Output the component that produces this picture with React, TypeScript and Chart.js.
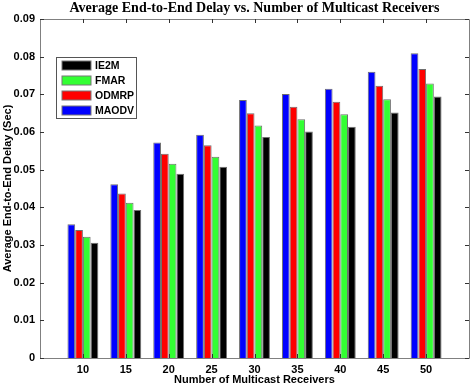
import React, { useEffect, useRef } from 'react';
import { Chart, registerables } from 'chart.js';

Chart.register(...registerables);

const categories = ['10', '15', '20', '25', '30', '35', '40', '45', '50'];
const maodv = [0.0355, 0.0461, 0.0572, 0.0593, 0.0685, 0.0701, 0.0715, 0.0760, 0.0809];
const odmrp = [0.0340, 0.0437, 0.0542, 0.0565, 0.0650, 0.0667, 0.0680, 0.0723, 0.0767];
const fmar = [0.0322, 0.0412, 0.0516, 0.0534, 0.0617, 0.0634, 0.0647, 0.0687, 0.0729];
const ie2m = [0.0306, 0.0393, 0.0489, 0.0508, 0.0587, 0.0601, 0.0614, 0.0652, 0.0694];
const yMin = 0;
const yMax = 0.09;
const yStep = 0.01;

const pad = (arr: number[]) => [null, ...arr, null];

const frameColor = '#808080';

const framePlugin = {
  id: 'matlabFrame',
  afterDatasetsDraw(chart: any) {
    const { ctx, chartArea, scales } = chart;
    const { left, right, top, bottom } = chartArea;
    const len = 4;
    ctx.save();
    ctx.strokeStyle = frameColor;
    ctx.lineWidth = 1;
    ctx.beginPath();
    ctx.rect(Math.round(left) + 0.5, Math.round(top) + 0.5, Math.round(right - left), Math.round(bottom - top));
    ctx.stroke();
    ctx.strokeStyle = '#333';
    ctx.beginPath();
    const y = scales.y;
    y.ticks.forEach((t: any) => {
      const py = Math.round(y.getPixelForValue(t.value)) + 0.5;
      ctx.moveTo(left, py);
      ctx.lineTo(left + len, py);
      ctx.moveTo(right, py);
      ctx.lineTo(right - len, py);
    });
    const x = scales.x;
    x.ticks.forEach((t: any) => {
      const lbl = chart.data.labels[t.value];
      if (!lbl) return;
      const px = Math.round(x.getPixelForValue(t.value)) + 0.5;
      ctx.moveTo(px, bottom);
      ctx.lineTo(px, bottom - len);
      ctx.moveTo(px, top);
      ctx.lineTo(px, top + len);
    });
    ctx.stroke();
    ctx.restore();
  },
};

const legendPlugin = {
  id: 'insetLegend',
  afterDraw(chart: any) {
    const { ctx } = chart;
    const boxX = 56.5;
    const boxY = 57.5;
    const boxW = 80;
    const boxH = 61;
    ctx.save();
    ctx.fillStyle = '#fff';
    ctx.fillRect(boxX, boxY, boxW, boxH);
    ctx.strokeStyle = '#555';
    ctx.lineWidth = 1;
    ctx.strokeRect(boxX, boxY, boxW, boxH);
    const items = [...chart.data.datasets].reverse();
    ctx.font = 'bold 10.5px "Liberation Sans", Arial, sans-serif';
    ctx.textBaseline = 'middle';
    items.forEach((ds: any, i: number) => {
      const cy = 65.5 + i * 15;
      ctx.fillStyle = ds.backgroundColor;
      ctx.fillRect(62, cy - 4.5, 29, 9);
      ctx.strokeStyle = '#777';
      ctx.strokeRect(62, cy - 4.5, 29, 9);
      ctx.fillStyle = '#000';
      ctx.fillText(ds.label, 95, cy + 0.5);
    });
    ctx.restore();
  },
};

export default function App() {
  const ref = useRef<HTMLCanvasElement>(null);
  useEffect(() => {
    document.body.style.margin = '0';
    const canvas = ref.current!;
    const axisFont = { family: '"Liberation Sans", Arial, sans-serif', size: 11, weight: 'bold' as const };
    const mk = (label: string, data: number[], color: string) => ({
      label,
      data: pad(data),
      backgroundColor: color,
      borderColor: '#6f6f6f',
      borderWidth: 1,
      categoryPercentage: 0.72,
      barPercentage: 1,
    });
    const chart = new Chart(canvas, {
      type: 'bar',
      data: {
        labels: ['', ...categories, ''],
        datasets: [
          mk('MAODV', maodv, '#0000ff'),
          mk('ODMRP', odmrp, '#ff0000'),
          mk('FMAR', fmar, '#33ff33'),
          mk('IE2M', ie2m, '#000000'),
        ],
      },
      options: {
        responsive: false,
        animation: false,
        devicePixelRatio: 1,
        layout: { padding: { left: 0, right: 2, top: 0, bottom: 0 } },
        plugins: {
          legend: { display: false },
          tooltip: { enabled: false },
          title: {
            display: true,
            text: 'Average End-to-End Delay vs. Number of Multicast Receivers',
            fullSize: false,
            color: '#000',
            font: { family: '"Liberation Serif", "Times New Roman", serif', size: 14, weight: 'bold' },
            padding: { top: 0, bottom: 2.2 },
          },
        },
        scales: {
          x: {
            type: 'category',
            offset: false,
            grid: { display: false, drawTicks: false },
            border: { display: false },
            ticks: { color: '#000', font: axisFont, padding: 5, autoSkip: false, maxRotation: 0 },
            title: {
              display: true,
              text: 'Number of Multicast Receivers',
              color: '#000',
              font: axisFont,
              padding: { top: 0, bottom: 0 },
            },
            afterFit(scale: any) {
              scale.height = 29;
            },
          },
          y: {
            min: yMin,
            max: yMax,
            grid: { display: false, drawTicks: false },
            border: { display: false },
            ticks: {
              stepSize: yStep,
              color: '#000',
              font: axisFont,
              padding: 5,
              callback: (v: any) => (Number(v) === 0 ? '0' : Number(v).toFixed(2)),
            },
            title: {
              display: true,
              text: 'Average End-to-End Delay (Sec)',
              color: '#000',
              font: axisFont,
              padding: { top: 1.5, bottom: 0 },
            },
            afterFit(scale: any) {
              scale.width = 40;
            },
          },
        },
      },
      plugins: [framePlugin, legendPlugin],
    });
    return () => chart.destroy();
  }, []);
  return <canvas ref={ref} width={474} height={387} style={{ display: 'block' }} />;
}
